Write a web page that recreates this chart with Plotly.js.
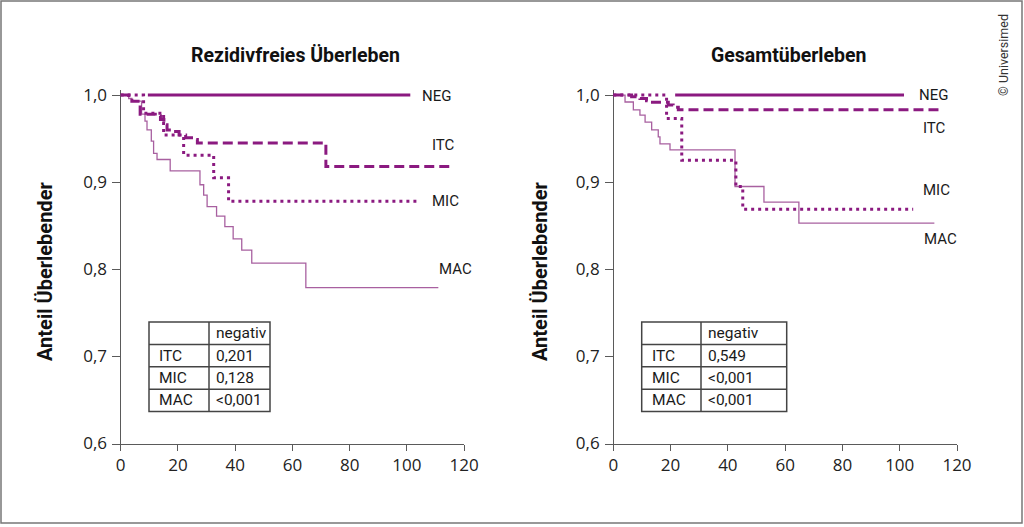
<!DOCTYPE html>
<html>
<head>
<meta charset="utf-8">
<script src="https://cdn.plot.ly/plotly-3.0.1.min.js"></script>
<style>html,body{margin:0;padding:0;background:#fff;}#chart{width:1024px;height:527px;}</style>
</head>
<body>
<div id="chart"></div>
<script>
// ---- Data: left panel (Rezidivfreies Überleben) ----
const negL_x = [9.5, 101.2];
const negL_y = [1, 1];
const itcL_x = [0, 2.8, 3.9, 6.8, 12.1, 13.9, 15.1, 16.2, 18.6, 20.4, 22.7, 25.6, 26.8, 71.7, 115.6];
const itcL_y = [1, 0.996, 0.993, 0.978, 0.976, 0.972, 0.966, 0.960, 0.958, 0.954, 0.951, 0.949, 0.945, 0.918, 0.918];
const micL_x = [0, 8.0, 15.0, 22.0, 32.5, 37.7, 103.4];
const micL_y = [1, 0.979, 0.954, 0.931, 0.905, 0.878, 0.878];
const macL_x = [0, 2.8, 3.9, 7.3, 8.5, 9.2, 10.7, 11.5, 12.7, 17.3, 27.7, 29.0, 30.2, 33.5, 36.4, 39.3, 42.3, 45.8, 64.7, 111.0];
const macL_y = [1, 0.996, 0.993, 0.978, 0.970, 0.960, 0.947, 0.933, 0.926, 0.913, 0.897, 0.885, 0.872, 0.861, 0.849, 0.835, 0.822, 0.807, 0.779, 0.779];

// ---- Data: right panel (Gesamtüberleben) ----
const negR_x = [21.6, 101.5];
const negR_y = [1, 1];
const itcR_x = [0, 6.4, 9.3, 11.6, 12.8, 19.2, 20.9, 22.7, 114.1];
const itcR_y = [1, 0.998, 0.996, 0.9935, 0.9916, 0.9885, 0.986, 0.983, 0.983];
const micR_x = [0, 18.6, 23.9, 42.8, 45.2, 104.7];
const micR_y = [1, 0.973, 0.925, 0.895, 0.869, 0.869];
const macR_x = [0, 4.1, 7.0, 9.3, 11.1, 13.4, 15.7, 16.3, 19.8, 42.5, 52.6, 64.8, 112.1];
const macR_y = [1, 0.992, 0.983, 0.977, 0.969, 0.960, 0.952, 0.944, 0.937, 0.895, 0.877, 0.853, 0.853];

// ---- Labels & tables ----
const groups = ["NEG", "ITC", "MIC", "MAC"];
const tableHeader = "negativ";
const tableRows = ["ITC", "MIC", "MAC"];
const pLeft = ["0,201", "0,128", "<0,001"];
const pRight = ["0,549", "<0,001", "<0,001"];
const panelTitles = ["Rezidivfreies Überleben", "Gesamtüberleben"];
const yTitle = "Anteil Überlebender";
const yTickVals = [0.6, 0.7, 0.8, 0.9, 1.0];
const yTickText = ["0,6", "0,7", "0,8", "0,9", "1,0"];
const xTickVals = [0, 20, 40, 60, 80, 100, 120];
const credit = "© Universimed";

// ---- Styles ----
const dark = "#8b1a80";
const light = "#a860a0";
const axisCol = "#5a5a5a";
const tickFont = {family: "Open Sans, sans-serif", size: 17, color: "#222"};
const lblFont = {family: "Roboto, sans-serif", size: 15, color: "#1a1a1a"};
const tblFont = {family: "Roboto, sans-serif", size: 15.5, color: "#1a1a1a"};
const titleFont = {family: "Roboto, sans-serif", size: 19.5, color: "#111"};
const yTitleFont = {family: "Roboto, sans-serif", size: 20, color: "#111"};

function tr(x, y, ax, style) {
  return Object.assign({x: x, y: y, xaxis: ax[0], yaxis: ax[1], mode: "lines", hoverinfo: "skip", showlegend: false}, style);
}
const sNEG = {line: {color: dark, width: 3, shape: "hv"}};
const sITC = {line: {color: dark, width: 3, shape: "hv", dash: "10px,5px"}};
const sMIC = {line: {color: dark, width: 3, shape: "hv", dash: "3px,4px"}};
const sMAC = {line: {color: light, width: 1.3, shape: "hv"}};

const L = ["x", "y"], R = ["x2", "y2"];
const data = [
  tr(macL_x, macL_y, L, sMAC), tr(micL_x, micL_y, L, sMIC), tr(itcL_x, itcL_y, L, sITC), tr(negL_x, negL_y, L, sNEG),
  tr(macR_x, macR_y, R, sMAC), tr(micR_x, micR_y, R, sMIC), tr(itcR_x, itcR_y, R, sITC), tr(negR_x, negR_y, R, sNEG)
];

function xa(domain) {
  return {domain: domain, range: [-3, 120], showgrid: false, zeroline: true, zerolinecolor: axisCol, zerolinewidth: 1,
    showline: true, linecolor: axisCol, linewidth: 1, ticks: "outside", ticklen: 6, tickcolor: axisCol,
    tickvals: xTickVals, ticktext: xTickVals.map(String), tickfont: tickFont, fixedrange: true};
}
function ya(domain, anchor) {
  return {domain: domain, anchor: anchor, range: [0.6, 1.006], showgrid: false, zeroline: false, showline: false,
    ticks: "inside", ticklen: 8, tickcolor: axisCol, tickvals: yTickVals, ticktext: yTickText, tickfont: tickFont,
    ticklabelstandoff: 4, fixedrange: true};
}
const yDom = [0.1584, 0.8296];

const P = (px) => px / 1024, Q = (py) => 1 - py / 527;
const annotations = [];
const shapes = [];
function note(px, py, text, font, xanchor, extra) {
  annotations.push(Object.assign({xref: "paper", yref: "paper", x: P(px), y: Q(py), text: text, showarrow: false,
    font: font, xanchor: xanchor || "center", yanchor: "middle"}, extra || {}));
}
// panel titles
note(295, 55, "<b>" + panelTitles[0] + "</b>", titleFont);
note(788, 55, "<b>" + panelTitles[1] + "</b>", titleFont);
// y titles
note(45, 272, "<b>" + yTitle + "</b>", yTitleFont, "center", {textangle: -90});
note(540, 272, "<b>" + yTitle + "</b>", yTitleFont, "center", {textangle: -90});
// credit
note(1003, 55, credit, {family: "Roboto, sans-serif", size: 12.5, color: "#333"}, "center", {textangle: -90});

// curve labels
const lblL = [[420, 96], [430, 145], [430, 201], [437, 269]];
const lblR = [[917, 95], [921, 128], [921, 190], [922, 239]];
groups.forEach((g, i) => {
  note(lblL[i][0], lblL[i][1], g, lblFont, "left");
  note(lblR[i][0], lblR[i][1], g, lblFont, "left");
});

// tables (pixel geometry)
function table(x0, xm, x1, vals) {
  const ys = [322, 344.4, 366.8, 389.2, 411.5];
  const ln = {color: "#444", width: 1.5};
  shapes.push({type: "rect", xref: "paper", yref: "paper", x0: P(x0), x1: P(x1), y0: Q(ys[0]), y1: Q(ys[4]), line: ln});
  for (let k = 1; k < 4; k++) shapes.push({type: "line", xref: "paper", yref: "paper", x0: P(x0), x1: P(x1), y0: Q(ys[k]), y1: Q(ys[k]), line: ln});
  shapes.push({type: "line", xref: "paper", yref: "paper", x0: P(xm), x1: P(xm), y0: Q(ys[0]), y1: Q(ys[4]), line: ln});
  note(xm + 5, (ys[0] + ys[1]) / 2, tableHeader, tblFont, "left");
  tableRows.forEach((r, i) => {
    const yc = (ys[i + 1] + ys[i + 2]) / 2;
    note(x0 + 8, yc, r, tblFont, "left");
    note(xm + 5, yc, vals[i].replace("<", "&lt;"), tblFont, "left");
  });
}
table(149, 209, 270, pLeft);
table(641.7, 701, 786.7, pRight);

// outer frame
shapes.push({type: "rect", xref: "paper", yref: "paper", x0: P(1), x1: P(1022), y0: Q(523), y1: Q(1), line: {color: "#777", width: 1.5}});

const layout = {
  width: 1024, height: 527, margin: {l: 0, r: 0, t: 0, b: 0},
  paper_bgcolor: "#fff", plot_bgcolor: "rgba(0,0,0,0)",
  xaxis: Object.assign(xa([112.1 / 1024, 464.1 / 1024]), {anchor: "y"}),
  yaxis: ya(yDom, "x"),
  xaxis2: Object.assign(xa([604.7 / 1024, 957 / 1024]), {anchor: "y2"}),
  yaxis2: ya(yDom, "x2"),
  annotations: annotations, shapes: shapes, showlegend: false
};
Plotly.newPlot("chart", data, layout, {displayModeBar: false, staticPlot: true});
</script>
</body>
</html>
